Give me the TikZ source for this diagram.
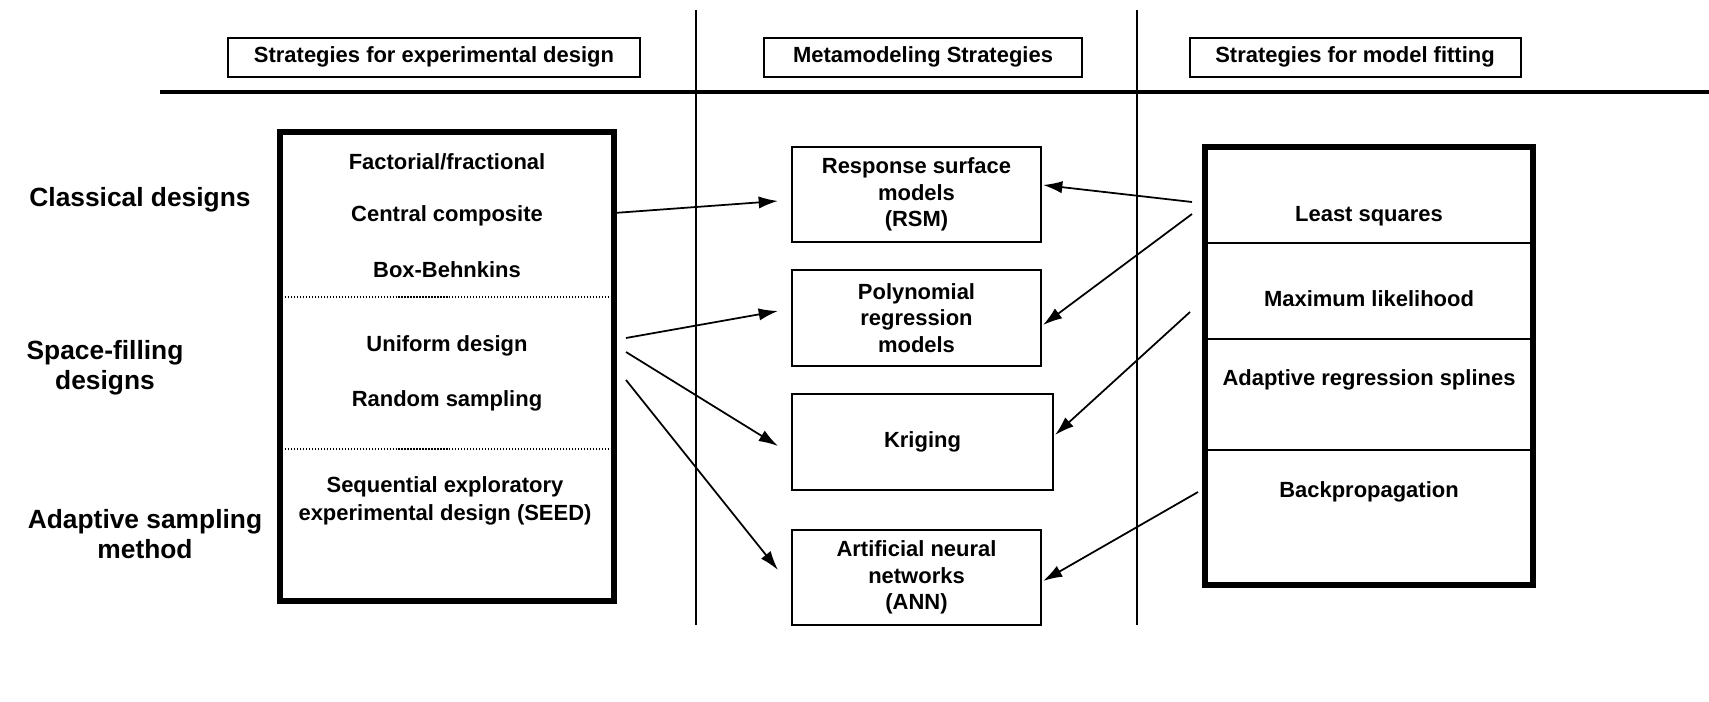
\documentclass[tikz,border=0pt]{standalone}
\usepackage{fontspec}
\setmainfont{Liberation Sans}
\usetikzlibrary{arrows.meta}
\begin{document}
\begin{tikzpicture}[x=0.02cm,y=-0.02cm,
 txt/.style={font=\bfseries\fontsize{12.5}{14}\selectfont,align=center,inner sep=0},
 big/.style={font=\bfseries\fontsize{15}{17}\selectfont,align=center,inner sep=0},
 hbox/.style={draw,line width=1pt},
 arr/.style={-{Latex[length=11pt,width=7pt]},line width=1pt}]
\useasboundingbox (0,0) rectangle (1709,702);
% headers
\draw[hbox] (228,38) rectangle (640,77);
\node[txt] (h1) at (434,57) {Strategies for experimental design};
\draw[hbox] (764,38) rectangle (1082,77);
\node[txt] (h2) at (923,57) {Metamodeling Strategies};
\draw[hbox] (1190,38) rectangle (1521,77);
\node[txt] (h3) at (1355,57) {Strategies for model fitting};
\draw[line width=2pt] (160,92) -- (1709,92);
\draw[line width=1.5pt] (696,10) -- (696,625);
\draw[line width=1.5pt] (1137,10) -- (1137,625);
% left labels
\node[big] (l1) at (140,200) {Classical designs};
\node[big] (l2) at (105,368) {Space-filling\\designs};
\node[big] (l3) at (145,534) {Adaptive sampling\\method};
% left box
\draw[line width=3.5pt] (280,132) rectangle (614,601);
\draw[line width=0.7pt,densely dotted] (282,297) -- (612,297);
\draw[line width=0.7pt,densely dotted] (282,449) -- (612,449);
\node[txt] (f1) at (447,162) {Factorial/fractional};
\node[txt] (f2) at (447,216) {Central composite};
\node[txt] (f3) at (447,270) {Box-Behnkins};
\node[txt] (f4) at (447,346) {Uniform design};
\node[txt] (f5) at (447,401) {Random sampling};
\node[txt] (f6) at (445,501) {Sequential exploratory\\[2pt]experimental design (SEED)};
% middle boxes
\node[hbox,txt,minimum width=249*0.02cm,minimum height=95*0.02cm] (rsm) at (916.5,194.5) {Response surface\\[1pt]models\\[1pt](RSM)};
\node[hbox,txt,minimum width=249*0.02cm,minimum height=96*0.02cm] (poly) at (916.5,318) {Polynomial\\[1pt]regression\\[1pt]models};
\node[hbox,txt,minimum width=261*0.02cm,minimum height=96*0.02cm] (krig) at (922.5,442) {Kriging};
\node[hbox,txt,minimum width=249*0.02cm,minimum height=95*0.02cm] (ann) at (916.5,577.5) {Artificial neural\\[1pt]networks\\[1pt](ANN)};
% right box
\draw[line width=3.5pt] (1205,147) rectangle (1533,585);
\draw[line width=0.8pt] (1207,243) -- (1531,243);
\draw[line width=0.8pt] (1207,339) -- (1531,339);
\draw[line width=0.8pt] (1207,450) -- (1531,450);
\node[txt] (m1) at (1369,216) {Least squares};
\node[txt] (m2) at (1369,299) {Maximum likelihood};
\node[txt] (m3) at (1369,380) {Adaptive regression splines};
\node[txt] (m4) at (1369,492) {Backpropagation};
% arrow coordinates
\coordinate (a1) at (614,213); \coordinate (b1) at (778,201);
\coordinate (a2) at (626,338); \coordinate (b2) at (778,311);
\coordinate (a3) at (626,352); \coordinate (b3) at (778,446);
\coordinate (a4) at (626,380); \coordinate (b4) at (778,570);
\coordinate (c1) at (1192,202); \coordinate (d1) at (1043,185);
\coordinate (c2) at (1192,214); \coordinate (d2) at (1043,325);
\coordinate (c3) at (1190,312); \coordinate (d3) at (1055,435);
\coordinate (c4) at (1198,492); \coordinate (d4) at (1043,581);
\foreach \i in {1,...,4}{\draw[arr] (a\i) -- (b\i); \draw[arr] (c\i) -- (d\i);}
\end{tikzpicture}
\end{document}
